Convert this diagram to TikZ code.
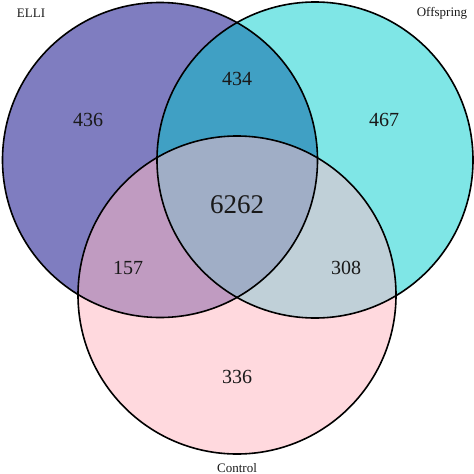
\documentclass[tikz,border=0pt]{standalone}
\usepackage{fontspec}
\setmainfont{Liberation Serif}
\definecolor{cA}{RGB}{127,125,192}
\definecolor{cB}{RGB}{127,230,230}
\definecolor{cC}{RGB}{255,217,222}
\definecolor{cAB}{RGB}{64,160,196}
\definecolor{cAC}{RGB}{192,155,193}
\definecolor{cBC}{RGB}{192,208,216}
\definecolor{cABC}{RGB}{160,174,198}
\begin{document}
\begin{tikzpicture}[x=1pt,y=-1pt,
  num/.style={font=\fontsize{20}{22}\selectfont, text=black!90},
  setlabel/.style={font=\fontsize{13}{15}\selectfont, text=black!90},
  ring/.style={draw=black, line width=1.6pt}]
\useasboundingbox (0,0) rectangle (474,474);
\coordinate (ca) at (160,160);
\coordinate (cb) at (315,160);
\coordinate (cc) at (237,295);
\def\ra{157.5}\def\rb{158}\def\rc{159}
\fill[cA] (ca) circle[radius=\ra];
\fill[cB] (cb) circle[radius=\rb];
\fill[cC] (cc) circle[radius=\rc];
\begin{scope}\clip (ca) circle[radius=\ra]; \fill[cAB] (cb) circle[radius=\rb]; \end{scope}
\begin{scope}\clip (ca) circle[radius=\ra]; \fill[cAC] (cc) circle[radius=\rc]; \end{scope}
\begin{scope}\clip (cb) circle[radius=\rb]; \fill[cBC] (cc) circle[radius=\rc]; \end{scope}
\begin{scope}\clip (ca) circle[radius=\ra]; \clip (cb) circle[radius=\rb]; \fill[cABC] (cc) circle[radius=\rc]; \end{scope}
\draw[ring] (ca) circle[radius=\ra];
\draw[ring] (cb) circle[radius=\rb];
\draw[ring] (cc) circle[radius=\rc];
\node[setlabel] (lA) at (31,13) {ELLI};
\node[setlabel] (lB) at (442,13) {Offspring};
\node[setlabel] (lC) at (237,468) {Control};
\node[num] (nA) at (88,120) {436};
\node[num] (nAB) at (237,79) {434};
\node[num] (nB) at (384,120) {467};
\node[num, font=\fontsize{27}{29}\selectfont] (nABC) at (237,205) {6262};
\node[num] (nAC) at (128,268) {157};
\node[num] (nBC) at (346,268) {308};
\node[num] (nC) at (237,377) {336};
\end{tikzpicture}
\end{document}
